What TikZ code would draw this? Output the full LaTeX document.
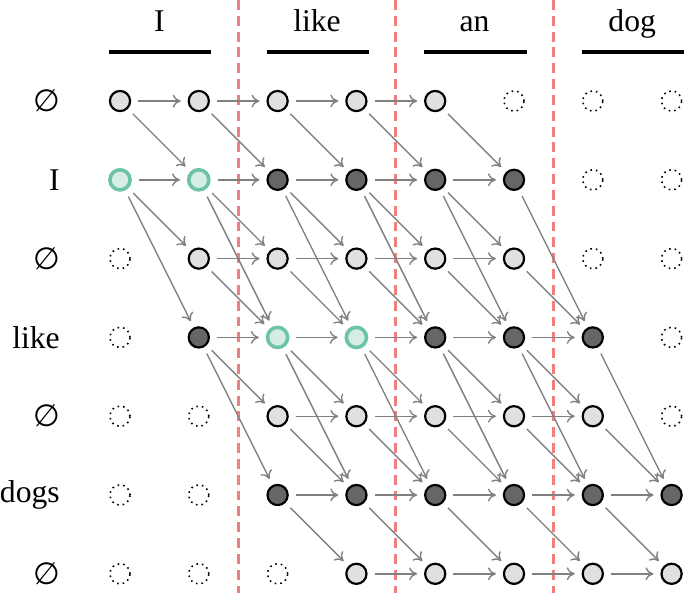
\documentclass[tikz,border=0pt]{standalone}
\usepackage{fontspec}
\setmainfont{Liberation Serif}
\newfontfamily\symfont{DejaVu Sans}
\usepackage{xcolor}
\usetikzlibrary{arrows.meta}
\definecolor{mint}{RGB}{108,196,164}
\definecolor{mintfill}{RGB}{213,237,228}
\definecolor{cutline}{RGB}{240,128,128}
\newcommand{\blk}{{\symfont\fontsize{15.5}{18}\selectfont ∅}}

\begin{document}
\begin{tikzpicture}[x=1.4cm,y=1.4cm,
	every node/.style={font=\fontsize{16}{19}\selectfont},
	blank/.style={circle,draw,line width=1.1pt,fill=black!12,minimum size=10.2pt,inner sep=0pt},
	token/.style={blank,fill=black!60},
	best/.style={blank,draw=mint,fill=mintfill,line width=1.8pt},
	unused/.style={circle,draw,dotted,line width=0.8pt,minimum size=10.2pt,inner sep=0pt},
	trans/.style={-{To[length=4pt,width=6.5pt]},draw=black!50,line width=0.7pt,shorten <=3.5pt,shorten >=3.5pt}]
					\useasboundingbox (-0.523,0.282) rectangle (8.221,-7.408);
					
					%word borders
					\foreach \x in {2.5,4.5,6.5}
						\draw[cutline,line width=1.5pt,dash pattern=on 5pt off 3pt] (\x,0.282) -- (\x,-7.24);
					
					%words on top
					\foreach \c/\w in {1/I,3/like,5/an,7/dog} {
						\node[anchor=base] (w\c) at (\c+0.5,-0.124) {\w};
						\draw[line width=2.4pt] (\c-0.14,-0.378) -- (\c+1.16,-0.378);
					}
					
					%labels on the left
					\foreach \r/\w in {1/\blk,2/I,3/\blk,4/like,5/\blk,6/dogs,7/\blk}
						\node[anchor=east,inner sep=0pt] (t\r) at (0.24,-\r) {\w};
					
					% draw states
					\foreach \r/\c in {1/1,1/2,1/3,1/4,1/5,3/2,3/3,3/4,3/5,3/6,5/3,5/4,5/5,5/6,5/7,7/4,7/5,7/6,7/7,7/8}
						\node[blank] (n\r\c) at (\c,-\r) {};
					\foreach \r/\c in {2/3,2/4,2/5,2/6,4/2,4/5,4/6,4/7,6/3,6/4,6/5,6/6,6/7,6/8}
						\node[token] (n\r\c) at (\c,-\r) {};
					\foreach \r/\c in {2/1,2/2,4/3,4/4}
						\node[best] (n\r\c) at (\c,-\r) {};
					\foreach \r/\c in {1/6,1/7,1/8,2/7,2/8,3/1,3/7,3/8,4/1,4/8,5/1,5/2,5/8,6/1,6/2,7/1,7/2,7/3}
						\node[unused] (n\r\c) at (\c,-\r) {};
					
					%stay
					\foreach \a/\b in {11/12,12/13,13/14,14/15,21/22,22/23,23/24,24/25,25/26,32/33,33/34,34/35,35/36,42/43,43/44,44/45,45/46,46/47,53/54,54/55,55/56,56/57,63/64,64/65,65/66,66/67,67/68,74/75,75/76,76/77,77/78}
						\draw[trans] (n\a) -- (n\b);
					%next
					\foreach \a/\b in {11/22,12/23,13/24,14/25,15/26,21/32,22/33,23/34,24/35,25/36,32/43,33/44,34/45,35/46,36/47,42/53,43/54,44/55,45/56,46/57,53/64,54/65,55/66,56/67,57/68,63/74,64/75,65/76,66/77,67/78}
						\draw[trans] (n\a) -- (n\b);
					%skip
					\foreach \a/\b in {21/42,22/43,23/44,24/45,25/46,26/47,42/63,43/64,44/65,45/66,46/67,47/68}
						\draw[trans] (n\a) -- (n\b);
				\end{tikzpicture}
\end{document}
